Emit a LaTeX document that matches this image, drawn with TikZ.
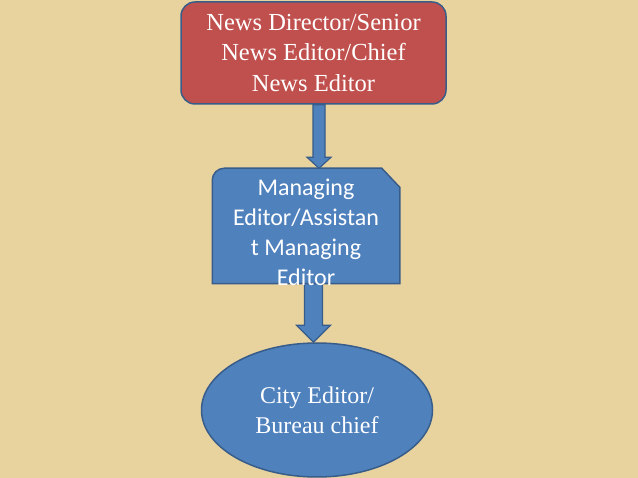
\documentclass[tikz,border=0pt]{standalone}
\usepackage{fontspec}
\setmainfont{Liberation Serif}
\newfontfamily\bodyfont{Carlito}
\usetikzlibrary{shapes.geometric,calc}

\definecolor{paper}{HTML}{E8D29E}
\definecolor{chiefred}{HTML}{C0504D}
\definecolor{deskblue}{HTML}{4F81BD}
\definecolor{edgeblue}{HTML}{385D8A}

% block arrow: from, to, x offset, shaft half width, head half width, head length
\newcommand{\fatarrow}[6]{%
  \draw[block arrow] let \p1=(#1), \p2=(#2) in
    (\x1+#3pt-#4pt,\y1) -- (\x1+#3pt+#4pt,\y1) -- (\x1+#3pt+#4pt,\y2+#6pt)
    -- (\x1+#3pt+#5pt,\y2+#6pt) -- (\x1+#3pt,\y2) -- (\x1+#3pt-#5pt,\y2+#6pt)
    -- (\x1+#3pt-#4pt,\y2+#6pt) -- cycle;}

\begin{document}
\begin{tikzpicture}[x=1pt,y=-1pt,line width=1.5pt,
  chief node/.style={rectangle,rounded corners=14pt,fill=chiefred,draw=edgeblue,
    text=white,align=center,font=\fontsize{24.5}{30.5}\selectfont,
    minimum width=265pt,minimum height=102pt},
  desk node/.style={rectangle,inner sep=0pt,minimum width=186pt,minimum height=114pt},
  desk shape/.style={fill=deskblue,draw=edgeblue},
  desk text/.style={text=white,align=center,font=\bodyfont\fontsize{24}{30}\selectfont},
  city node/.style={ellipse,fill=deskblue,draw=edgeblue,text=white,align=center,
    font=\fontsize{24}{30}\selectfont,minimum width=231pt,minimum height=134pt,inner sep=0pt},
  block arrow/.style={fill=deskblue,draw=edgeblue,line width=1.2pt,line join=miter}]

  \fill[paper] (0,0) rectangle (638,478);
  \useasboundingbox (0,0) rectangle (638,478);

  \node[chief node] (chief) at (313.5,53) {News Director/Senior\\News Editor/Chief\\News Editor};
  \node[desk node] (desk) at (306,226) {};
  \node[city node] (city) at (317,410) {City Editor/\\Bureau chief};

  \draw[desk shape] (desk.south west) -- ([yshift=-12pt]desk.north west)
    arc[start angle=180,end angle=90,radius=12pt]
    -- ([xshift=-18pt]desk.north east) -- ([yshift=-19pt]desk.north east)
    -- (desk.south east) -- cycle;

  \fatarrow{chief.south}{desk.north}{5.5}{6}{12}{11}
  \fatarrow{desk.south}{city.north}{7.5}{9}{17}{17}

  \node[desk text] (desklabel) at ([yshift=-6pt]desk.center)
    {Managing\\Editor/Assistan\\t Managing\\Editor};
\end{tikzpicture}
\end{document}
